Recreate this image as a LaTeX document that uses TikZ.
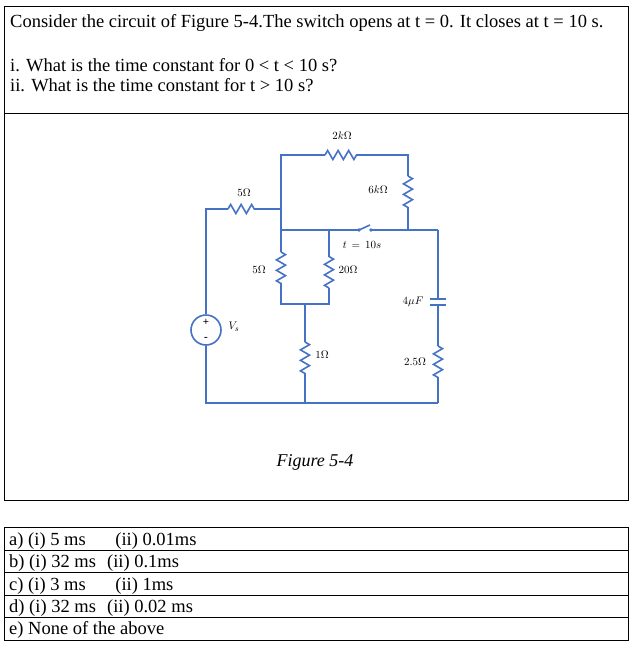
\documentclass[tikz,border=0pt]{standalone}
\usepackage{fontspec}
\setmainfont{Liberation Serif}
\usetikzlibrary{decorations.pathmorphing}
\definecolor{wire}{HTML}{4472C4}
\tikzset{
  w/.style={draw=wire,line width=1.6pt},
  res/.style={w,decorate,decoration={zigzag,segment length=10.5pt,amplitude=4.5pt}},
  lbl/.style={font=\fontsize{11}{12}\selectfont,inner sep=1pt},
  box/.style={draw=black,line width=0.8pt},
  txt/.style={font=\fontsize{18.5}{20}\selectfont,anchor=base west,inner sep=0pt}
}
\begin{document}
\begin{tikzpicture}[x=1pt,y=-1pt]
\useasboundingbox (0,0) rectangle (634,648);
% boxes
\draw[box] (4,6) rectangle (628,500);
\draw[box] (4,113) -- (628,113);
\node[txt] (q0) at (10,27) {Consider the circuit of Figure 5-4.The switch opens at t = 0. It closes at t = 10 s.};
\node[txt] (q1) at (10,71) {i. What is the time constant for 0 < t < 10 s?};
\node[txt] (q2) at (10,91) {ii. What is the time constant for t > 10 s?};
% answers
\draw[box] (4,527) rectangle (628,640);
\foreach \yy in {550,572,595,617} \draw[box] (4,\yy) -- (628,\yy);
\node[txt] (a) at (9,545) {a) (i) 5 ms\hspace{1.6em}(ii) 0.01ms};
\node[txt] (b) at (9,567) {b) (i) 32 ms\hspace{0.6em}(ii) 0.1ms};
\node[txt] (c) at (9,590) {c) (i) 3 ms\hspace{1.6em}(ii) 1ms};
\node[txt] (d) at (9,612) {d) (i) 32 ms\hspace{0.6em}(ii) 0.02 ms};
\node[txt] (e) at (9,634) {e) None of the above};
% circuit coordinates
\coordinate (L1) at (206,209);
\coordinate (B1) at (206,403);
\coordinate (T2) at (281,155);
\coordinate (M2) at (281,209);
\coordinate (S2) at (281,230);
\coordinate (S3) at (329,230);
\coordinate (S4) at (408,230);
\coordinate (SR) at (438,230);
\coordinate (T4) at (408,155);
\coordinate (P2) at (281,304);
\coordinate (P3) at (329,304);
\coordinate (P1) at (305,304);
\coordinate (B5) at (305,403);
\coordinate (BR) at (438,403);
% source
\node[circle,draw=wire,line width=1.6pt,minimum size=30pt,inner sep=0pt] (vs) at (206,330) {};
\node[font=\bfseries\fontsize{11}{11}\selectfont,inner sep=0pt] (pl) at (206,322) {+};
\node[font=\bfseries\fontsize{11}{11}\selectfont,inner sep=0pt] (mi) at (206,339) {-};
\node[lbl] (vsl) at (234,327) {$V_s$};
\draw[w] (vs.north) -- (L1) -- (228,209);
\draw[res] (228,209) -- (259,209);
\draw[w] (259,209) -- (M2);
\draw[w] (vs.south) -- (B1) -- (BR);
% top loop
\draw[w] (S2) -- (T2) -- (325,155);
\draw[res] (325,155) -- (357,155);
\draw[w] (357,155) -- (T4) -- (408,176);
\draw[res] (408,176) -- (408,208);
\draw[w] (408,208) -- (S4);
% switch line
\draw[w] (S2) -- (359,230);
\draw[w] (359,230) -- (370,225);
\draw[w] (371,230) -- (SR);
\fill[wire] (359,230) circle (1.8pt);
\fill[wire] (371,230) circle (1.8pt);
% parallel 5 and 20
\draw[w] (S2) -- (281,252);
\draw[res] (281,252) -- (281,284);
\draw[w] (281,284) -- (P2) -- (P3) -- (329,288);
\draw[res] (329,288) -- (329,256);
\draw[w] (329,256) -- (S3);
% 1 ohm
\draw[w] (P1) -- (305,342);
\draw[res] (305,342) -- (305,374);
\draw[w] (305,374) -- (B5);
% right branch
\draw[w] (SR) -- (438,299);
\draw[w] (430,299) -- (446,299);
\draw[w] (430,305) -- (446,305);
\draw[w] (438,305) -- (438,346);
\draw[res] (438,346) -- (438,378);
\draw[w] (438,378) -- (BR);
% labels
\node[lbl] (l2k) at (342,136) {$2k\Omega$};
\node[lbl] (l6k) at (378,190) {$6k\Omega$};
\node[lbl] (l5a) at (244,193) {$5\Omega$};
\node[lbl] (l5b) at (259,270) {$5\Omega$};
\node[lbl] (l20) at (348,270) {$20\Omega$};
\node[lbl] (lsw) at (362,245) {$t\,=\,10s$};
\node[lbl] (l4u) at (413,302) {$4\mu F$};
\node[lbl] (l1) at (322,355) {$1\Omega$};
\node[lbl] (l25) at (415,362) {$2.5\Omega$};
\node[font=\itshape\fontsize{18}{20}\selectfont] (fig) at (315,462) {Figure 5-4};
\end{tikzpicture}
\end{document}
